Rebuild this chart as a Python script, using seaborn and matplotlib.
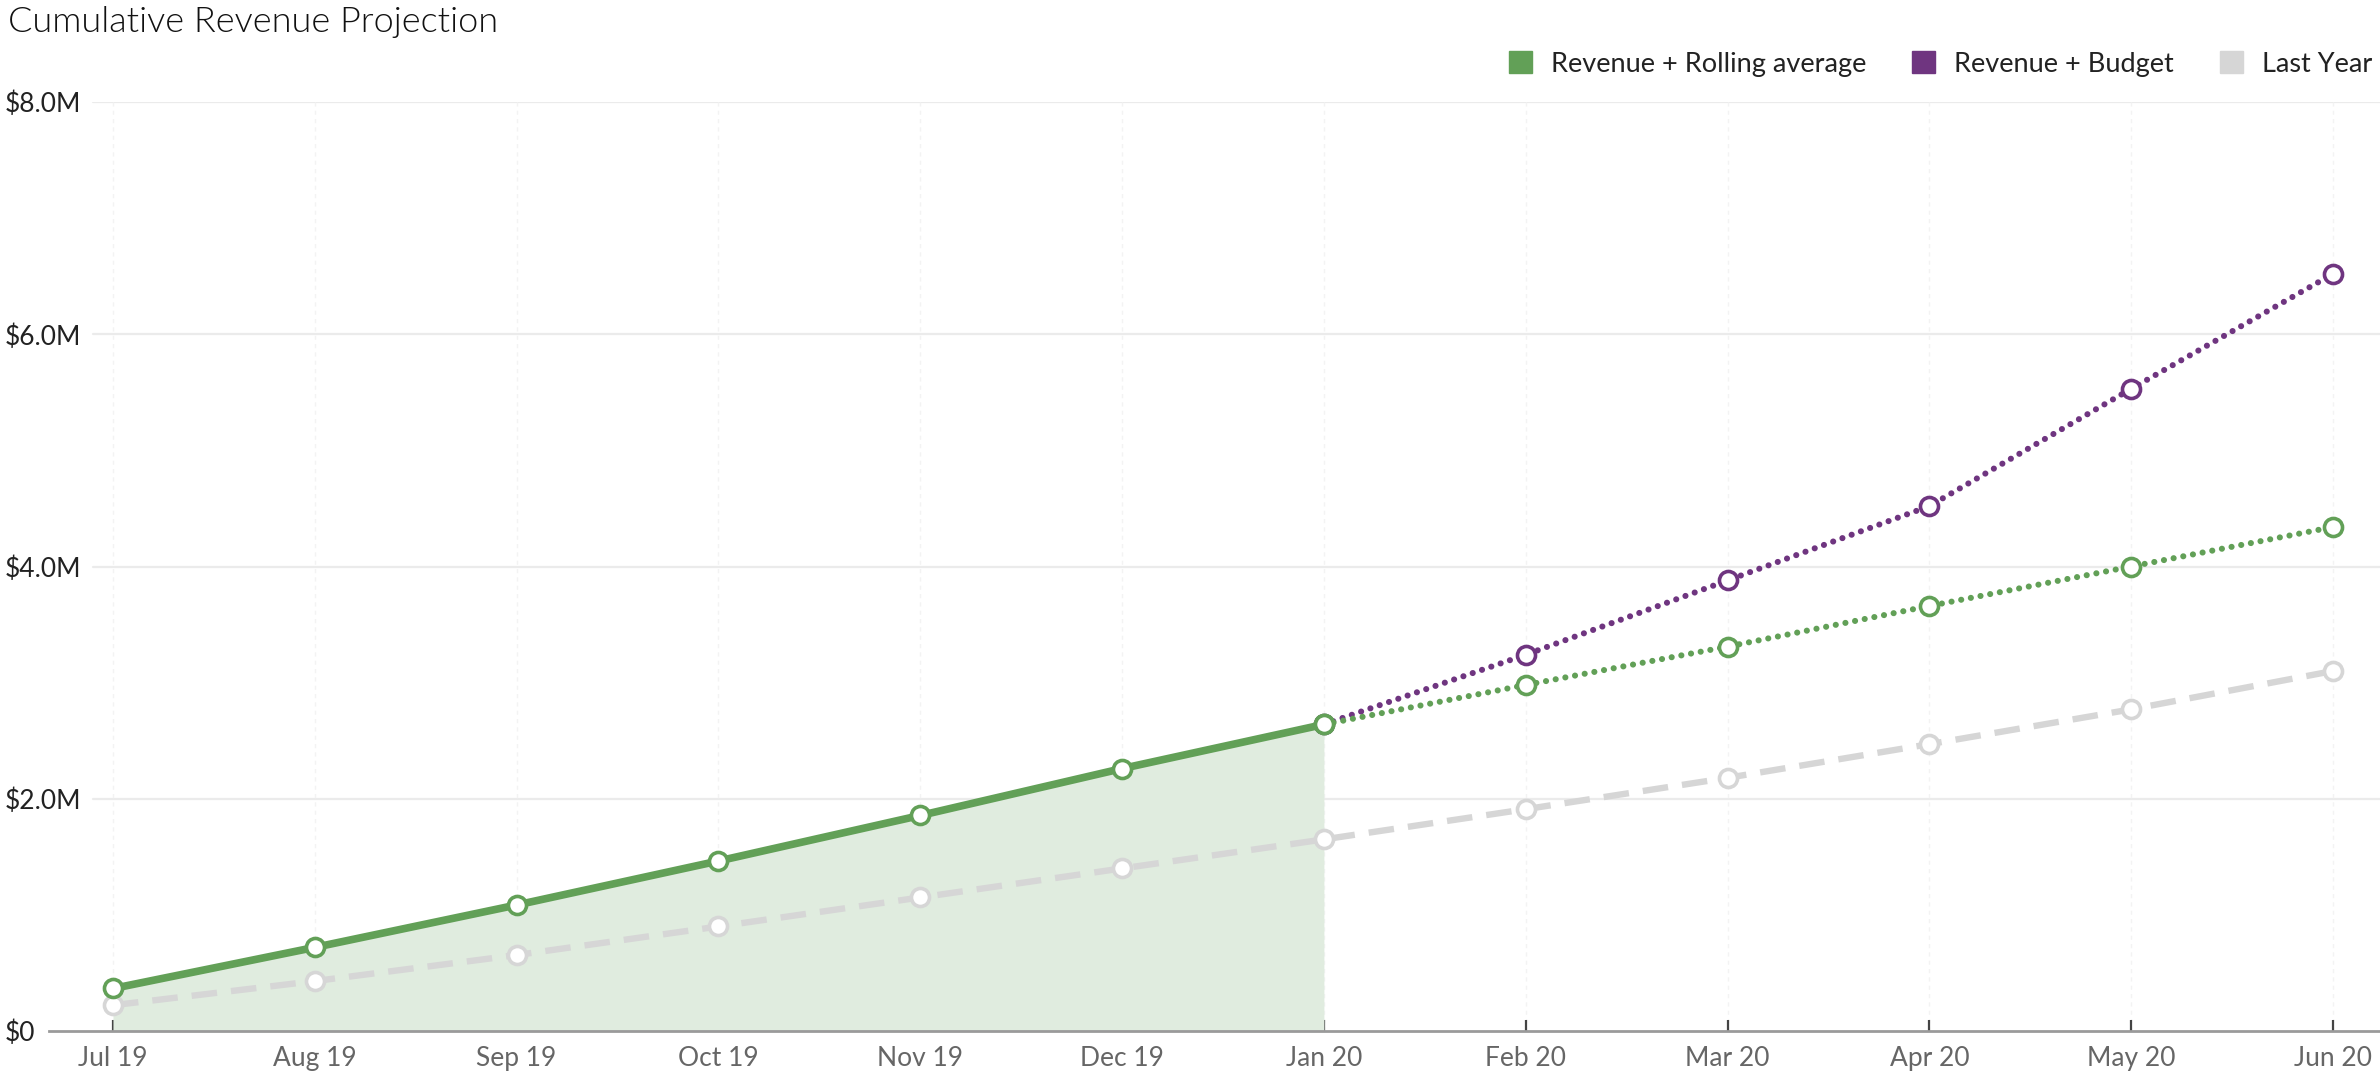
import numpy as np
import pandas as pd
import seaborn as sns
import matplotlib.pyplot as plt
from matplotlib.patches import Patch
from matplotlib.ticker import FuncFormatter

sns.set_style('white')
plt.rcParams['font.family'] = ['Lato', 'DejaVu Sans']

#%% Data (in $M)
months = ['Jul 19', 'Aug 19', 'Sep 19', 'Oct 19', 'Nov 19', 'Dec 19',
          'Jan 20', 'Feb 20', 'Mar 20', 'Apr 20', 'May 20', 'Jun 20']
revenue = [0.366, 0.72, 1.085, 1.464, 1.856, 2.26, 2.64]
rolling_avg = [2.64, 2.98, 3.31, 3.66, 4.00, 4.34]
budget = [2.64, 3.24, 3.88, 4.52, 5.53, 6.52]
last_year = [0.222, 0.43, 0.654, 0.90, 1.15, 1.40, 1.65,
             1.91, 2.18, 2.47, 2.77, 3.10]
y_ticks = [0, 2, 4, 6, 8]

green = '#62a057'
purple = '#6f3580'
grey = '#d6d6d6'
fill_green = '#e0ecdf'

pos = np.arange(len(months))
n_act = len(revenue)
df_act = pd.DataFrame({'x': pos[:n_act], 'y': revenue})
df_roll = pd.DataFrame({'x': pos[n_act - 1:], 'y': rolling_avg})
df_bud = pd.DataFrame({'x': pos[n_act - 1:], 'y': budget})
df_ly = pd.DataFrame({'x': pos, 'y': last_year})

#%% Figure
fig = plt.figure(figsize=(23.8, 10.9), dpi=100)
ax = fig.add_axes([49 / 2380, 1 - 1031 / 1090, 1 - 49 / 2380, (1031 - 102) / 1090])

mk = dict(marker='o', markersize=13, markerfacecolor='white', markeredgewidth=2.6)

ax.fill_between(df_act['x'], df_act['y'], 0, color=fill_green, lw=0, zorder=1)

sns.lineplot(data=df_ly, x='x', y='y', ax=ax, color=grey, lw=4.6,
             linestyle=(0, (4, 2.2)), markeredgecolor=grey, zorder=3, **mk)
sns.lineplot(data=df_bud, x='x', y='y', ax=ax, color=purple, lw=4.4,
             linestyle=(0, (0.01, 1.6)), dash_capstyle='round',
             markeredgecolor=purple, zorder=4, **mk)
sns.lineplot(data=df_roll, x='x', y='y', ax=ax, color=green, lw=4.4,
             linestyle=(0, (0.01, 1.6)), dash_capstyle='round',
             markeredgecolor=green, zorder=5, **mk)
sns.lineplot(data=df_act, x='x', y='y', ax=ax, color=green, lw=5.5,
             markeredgecolor=green, zorder=6, **mk)

# Axes
ax.set_xlim(-0.317, 11.233)
ax.set_ylim(0, 8)
ax.set_xticks(pos)
ax.set_xticklabels(months)
ax.set_yticks(y_ticks)
ax.yaxis.set_major_formatter(FuncFormatter(lambda v, p: '$0' if v == 0 else f'${v:.1f}M'))
ax.set_xlabel('')
ax.set_ylabel('')

for s in ['top', 'right', 'left']:
    ax.spines[s].set_visible(False)
ax.spines['bottom'].set_color('#9a9a9a')
ax.spines['bottom'].set_linewidth(2)
ax.spines['bottom'].set_zorder(7)

ax.tick_params(axis='x', direction='in', length=8, width=1.6, color='#444444',
               labelsize=19, labelcolor='#666666', pad=11, bottom=True)
ax.tick_params(axis='y', length=0, labelsize=19, labelcolor='#222222', pad=32)
for lbl in ax.get_yticklabels():
    lbl.set_horizontalalignment('left')

# Grid lines
for yt in y_ticks[1:]:
    ax.axhline(yt, xmin=44 / 2331, xmax=1, color='#ebebeb', lw=1.6, zorder=0)
for xp in pos:
    ax.axvline(xp, color='#f3f3f3', lw=1, linestyle=(0, (3, 3)), zorder=0)

# Title
fig.text(8 / 2380, 1 - 22 / 1090, 'Cumulative Revenue Projection', fontsize=26,
         fontweight=300, color='#111111', ha='left', va='center')

# Legend
handles = [Patch(color=green, label='Revenue + Rolling average'),
           Patch(color=purple, label='Revenue + Budget'),
           Patch(color=grey, label='Last Year')]
fig.legend(handles=handles, loc='center right',
           bbox_to_anchor=(2372 / 2380, 1 - 64 / 1090), ncol=3, frameon=False,
           fontsize=19.5, handlelength=0.85, handleheight=0.85,
           handletextpad=0.7, columnspacing=1.7, borderaxespad=0, borderpad=0,
           labelcolor='#222222')

fig.savefig('out.png', dpi=100)
